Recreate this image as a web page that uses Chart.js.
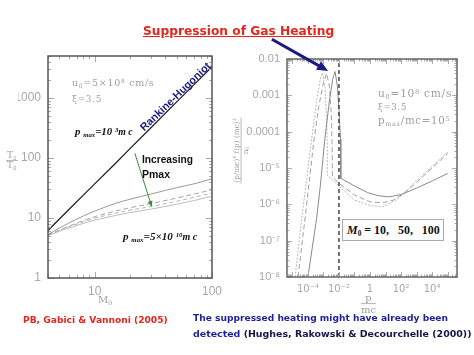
<!DOCTYPE html>
<html><head><meta charset="utf-8">
<script src="https://cdn.jsdelivr.net/npm/chart.js@4"></script>
<style>
html,body{margin:0;padding:0;background:#fff;}
#page{position:relative;width:474px;height:355px;overflow:hidden;background:#fff;}
canvas{position:absolute;left:0;top:0;}
.t{position:absolute;white-space:nowrap;line-height:1.1;display:inline-block;transform-origin:50% 50%;}
.t sub,.t sup{font-size:0.62em;line-height:0;}
.t sup{vertical-align:0.5em;}
.t sub{vertical-align:-0.3em;}
.gray{color:#a0a0a0;font-family:'DejaVu Serif';}
.sp{letter-spacing:0.7px;}
.bi{font-family:'Liberation Serif';font-weight:bold;font-style:italic;color:#111;}
.frac{text-align:center;}
.frac .num{border-bottom:1px solid #bbb;padding:0 1px;}
#mbox{position:absolute;left:342px;top:219px;width:102px;height:22px;border:1px solid #aaa;background:#fff;box-sizing:border-box;}
</style></head><body>
<div id="page">
<canvas id="cL" width="474" height="355"></canvas>
<canvas id="cR" width="474" height="355"></canvas>
<div id="mbox"></div>

<div class="t" data-x="143" data-cy="31" data-w="191" style="color:#e4261c;font-family:'DejaVu Sans';font-weight:bold;font-size:14px;text-decoration:underline;">Suppression of Gas Heating</div>

<div class="t gray sp" data-x="72" data-cy="83" data-w="80" style="font-size:13px">u<sub>0</sub>=5×10<sup>8</sup> cm/s</div>
<div class="t gray sp" data-x="72" data-cy="100" data-w="29" style="font-size:13px">ξ=3.5</div>
<div class="t" data-x="175" data-cy="97" data-w="93" data-rot="-44" style="color:#1c1c80;font-family:'Liberation Sans';font-weight:bold;font-size:12px">Rankine-Hugoniot</div>
<div class="t bi" data-x="75" data-cy="132" data-w="58" style="font-size:12px">p <sub>max</sub>=10 <sup>3</sup><span style="font-size:0.9em">m c</span></div>
<div class="t" data-x="142" data-cy="159" data-w="51" style="color:#111;font-family:'Liberation Sans';font-weight:bold;font-size:12px">Increasing</div>
<div class="t" data-x="142" data-cy="175" data-w="28" style="color:#111;font-family:'Liberation Sans';font-weight:bold;font-size:12px">Pmax</div>
<div class="t bi" data-x="123" data-cy="236" data-w="74" style="font-size:12px">p <sub>max</sub>=5×10 <sup>10</sup><span style="font-size:0.9em">m c</span></div>
<div class="t gray frac" data-x="6" data-cy="161" style="font-size:9px"><div class="num">T<sub>2</sub></div><div>T<sub>0</sub></div></div>
<div class="t gray" data-x="98" data-cy="299" style="font-size:10px">M<sub>0</sub></div>

<div class="t gray sp" data-x="378" data-cy="94" data-w="73" style="font-size:12px">u<sub>0</sub>=10<sup>8</sup> cm/s</div>
<div class="t gray sp" data-x="378" data-cy="107" data-w="28" style="font-size:12px">ξ=3.5</div>
<div class="t gray sp" data-x="378" data-cy="120" data-w="71" style="font-size:12px">p<sub>max</sub>/mc=10<sup>5</sup></div>
<div class="t bi" data-x="347" data-cy="230" data-w="93" style="font-size:14px;font-style:normal"><i>M</i><sub>0</sub> = 10,&nbsp;&nbsp; 50,&nbsp;&nbsp; 100</div>
<div class="t gray frac" data-x="241" data-cy="150" data-w="66" data-rot="-90" style="font-size:10px"><div class="num">(p/mc)<sup>4</sup> f(p) (mc)<sup>3</sup></div><div>n<sub>0</sub></div></div>
<div class="t gray frac" data-x="361" data-cy="303" style="font-size:10px"><div class="num">p</div><div>mc</div></div>

<div class="t" data-x="23" data-cy="320" data-w="145" style="color:#e4261c;font-family:'DejaVu Sans';font-weight:bold;font-size:10px">PB, Gabici &amp; Vannoni (2005)</div>
<div class="t" data-x="193" data-cy="318" data-w="255" style="color:#1f1f9a;font-family:'DejaVu Sans';font-weight:bold;font-size:10px">The suppressed heating might have already been</div>
<div class="t" data-x="193" data-cy="334" data-w="279" style="color:#1f1f9a;font-family:'DejaVu Sans';font-weight:bold;font-size:10px">detected <span style="color:#15154a">(Hughes, Rakowski &amp; Decourchelle (2000))</span></div>
</div>

<script>
// ---------- Left panel data: T2/T0 vs M0 ----------
const machNumbers      = [4, 5, 6, 8, 10, 15, 20, 30, 50, 70, 100];
const rankineHugoniot  = [6.2, 9.6, 13.7, 24, 37, 81, 143, 315, 860, 1650, 3300];
const tempPmaxLow      = [5.3, 6.8, 8.2, 10.8, 13, 17.5, 20.5, 25, 32, 37, 45];
const tempPmaxMid1     = [5.2, 6.3, 7.3, 9, 10.5, 13, 14.8, 17.3, 21.5, 25, 29.5];
const tempPmaxMid2     = [5.2, 6.2, 7.1, 8.6, 9.9, 12, 13.5, 15.5, 19, 22, 26];
const tempPmaxHigh     = [5.1, 6.0, 6.8, 8.1, 9.2, 11, 12.3, 14, 17, 19.5, 23];
const leftXTicks  = [10, 100];
const leftXLabels = ['10', '100'];
const leftYTicks  = [1, 10, 100, 1000];
const leftYLabels = ['1', '10', '100', '1000'];
const greenArrowFrom = {x: 22, y: 120};
const greenArrowTo   = {x: 30.7, y: 15.2};

// ---------- Right panel data: (p/mc)^4 f(p) (mc)^3 / n0 vs p/mc ----------
const pM10   = [1.0e-4, 3.6e-4, 6.3e-4, 1.23e-3, 2.5e-3, 4.0e-3, 5.6e-3, 7.9e-3, 1.0e-2, 1.26e-2, 1.32e-2, 1.32e-2, 0.1, 0.7, 3.2, 16, 100, 1000, 1e4, 1e5];
const fM10   = [1.0e-8, 4.0e-7, 3.2e-6, 6.3e-5, 7.9e-4, 2.8e-3, 4.5e-3, 1.8e-3, 4.0e-4, 6.3e-5, 2.0e-5, 5.2e-6, 3.2e-6, 2.1e-6, 1.74e-6, 1.6e-6, 1.86e-6, 2.8e-6, 4.4e-6, 7.1e-6];
const pM50   = [2.3e-5, 6.5e-5, 2.5e-4, 5.0e-4, 1.0e-3, 1.6e-3, 2.4e-3, 3.2e-3, 3.6e-3, 3.8e-3, 1e-2, 0.1, 1, 6.3, 32, 126, 1000, 1e4, 1e5];
const fM50   = [1.0e-8, 4.0e-7, 6.3e-5, 5.0e-4, 2.2e-3, 4.0e-3, 1.8e-3, 3.2e-4, 5.0e-5, 5.6e-6, 3.8e-6, 1.8e-6, 1.17e-6, 1.1e-6, 1.3e-6, 1.9e-6, 4.0e-6, 1.0e-5, 2.5e-5];
const pM100  = [1.5e-5, 4.0e-5, 1.74e-4, 3.5e-4, 6.3e-4, 8.9e-4, 1.26e-3, 1.6e-3, 1.78e-3, 1.8e-3, 1e-2, 0.1, 1, 6.3, 40, 126, 1000, 1e4, 1e5];
const fM100  = [1.0e-8, 4.0e-7, 6.3e-5, 6.3e-4, 2.8e-3, 4.2e-3, 1.6e-3, 2.5e-4, 4.0e-5, 6.3e-6, 3.2e-6, 1.3e-6, 9.3e-7, 8.5e-7, 1.26e-6, 1.8e-6, 4.5e-6, 1.1e-5, 2.7e-5];
const thermalMarkerP = 1e-2;
const rightXTicks  = [1e-4, 1e-2, 1, 1e2, 1e4];
const rightXLabels = ['10⁻⁴', '10⁻²', '1', '10²', '10⁴'];
const rightYTicks  = [1e-2, 1e-3, 1e-4, 1e-5, 1e-6, 1e-7, 1e-8];
const rightYLabels = ['0.01', '0.001', '0.0001', '10⁻⁵', '10⁻⁶', '10⁻⁷', '10⁻⁸'];
const blueArrowFrom = {x: 4.8e-7, y: 3.5e-2};
const blueArrowTo   = {x: 2.0e-3, y: 4.7e-3};

// ---------- text placement ----------
document.querySelectorAll('.t').forEach(el => {
  const w = +el.dataset.w;
  if (w) {
    const fs = parseFloat(getComputedStyle(el).fontSize);
    el.style.fontSize = (fs * w / el.offsetWidth) + 'px';
  }
  const x = +el.dataset.x, cy = +el.dataset.cy, rot = el.dataset.rot;
  if (rot) {
    el.style.left = (x - el.offsetWidth / 2) + 'px';
    el.style.top = (cy - el.offsetHeight / 2) + 'px';
    el.style.transform = 'rotate(' + rot + 'deg)';
  } else {
    el.style.left = x + 'px';
    el.style.top = (cy - el.offsetHeight / 2) + 'px';
  }
});

// ---------- plugins ----------
const framePlugin = {
  id: 'frame',
  afterDatasetsDraw(chart, args, o) {
    const {ctx, chartArea: a, scales: {x, y}} = chart;
    const list = s => {
      const out = [];
      const lo = Math.floor(Math.log10(s.min)), hi = Math.ceil(Math.log10(s.max));
      for (let k = lo; k <= hi; k++) for (let i = 1; i < 10; i++) {
        const v = i * Math.pow(10, k);
        if (v >= s.min * 0.999 && v <= s.max * 1.001) out.push([v, i === 1]);
      }
      return out;
    };
    ctx.save();
    ctx.strokeStyle = o.tickColor; ctx.lineWidth = 1;
    ctx.beginPath();
    list(x).forEach(([v, maj]) => {
      const px = Math.round(x.getPixelForValue(v)) + 0.5, L = maj ? o.major : o.minor;
      ctx.moveTo(px, a.bottom); ctx.lineTo(px, a.bottom - L);
      ctx.moveTo(px, a.top); ctx.lineTo(px, a.top + L);
    });
    list(y).forEach(([v, maj]) => {
      const py = Math.round(y.getPixelForValue(v)) + 0.5, L = maj ? o.major : o.minor;
      ctx.moveTo(a.left, py); ctx.lineTo(a.left + L, py);
      ctx.moveTo(a.right, py); ctx.lineTo(a.right - L, py);
    });
    ctx.stroke();
    ctx.strokeStyle = o.color; ctx.lineWidth = o.width;
    ctx.strokeRect(a.left, a.top, a.width, a.height);
    ctx.restore();
  },
  afterDraw(chart, args, o) {
    if (!o.arrow) return;
    const {ctx, scales: {x, y}} = chart, ar = o.arrow;
    const x0 = x.getPixelForValue(ar.from.x), y0 = y.getPixelForValue(ar.from.y);
    const x1 = x.getPixelForValue(ar.to.x), y1 = y.getPixelForValue(ar.to.y);
    const ang = Math.atan2(y1 - y0, x1 - x0);
    ctx.save();
    ctx.strokeStyle = ar.color; ctx.fillStyle = ar.color; ctx.lineWidth = ar.width;
    ctx.beginPath();
    ctx.moveTo(x0, y0);
    ctx.lineTo(x1 - Math.cos(ang) * ar.head * 0.8, y1 - Math.sin(ang) * ar.head * 0.8);
    ctx.stroke();
    ctx.beginPath();
    ctx.moveTo(x1, y1);
    ctx.lineTo(x1 - ar.head * Math.cos(ang) + ar.hw * Math.sin(ang), y1 - ar.head * Math.sin(ang) - ar.hw * Math.cos(ang));
    ctx.lineTo(x1 - ar.head * Math.cos(ang) - ar.hw * Math.sin(ang), y1 - ar.head * Math.sin(ang) + ar.hw * Math.cos(ang));
    ctx.closePath(); ctx.fill();
    ctx.restore();
  }
};
Chart.register(framePlugin);

const pts = (xs, ys) => xs.map((v, i) => ({x: v, y: ys[i]}));
const tickFont = {family: 'Liberation Sans', size: 12};

new Chart(document.getElementById('cL'), {
  type: 'line',
  data: {datasets: [
    {data: pts(machNumbers, rankineHugoniot), borderColor: '#222', borderWidth: 1.3, tension: 0},
    {data: pts(machNumbers, tempPmaxLow), borderColor: '#9a9a9a', borderWidth: 1},
    {data: pts(machNumbers, tempPmaxMid1), borderColor: '#a5a5a5', borderWidth: 1, borderDash: [5, 3]},
    {data: pts(machNumbers, tempPmaxMid2), borderColor: '#b5b5b5', borderWidth: 1, borderDash: [4, 3]},
    {data: pts(machNumbers, tempPmaxHigh), borderColor: '#bdbdbd', borderWidth: 1}
  ]},
  options: {
    responsive: false, animation: false, devicePixelRatio: 1, events: [],
    layout: {padding: {left: 18, right: 262, top: 56, bottom: 57}},
    elements: {point: {radius: 0}, line: {tension: 0.35}},
    plugins: {legend: {display: false}, tooltip: {enabled: false},
      frame: {color: '#555', width: 1.5, tickColor: '#aaa', major: 6, minor: 3,
        arrow: {from: greenArrowFrom, to: greenArrowTo, color: '#3d8b3d', width: 1, head: 6, hw: 2.5}}},
    scales: {
      x: {type: 'logarithmic', min: 4, max: 100, bounds: 'data',
        grid: {display: false, drawTicks: false}, border: {display: false},
        afterBuildTicks: s => { s.ticks = leftXTicks.map(v => ({value: v})); },
        afterFit: s => { s.height = 20; },
        ticks: {autoSkip: false, maxRotation: 0, minRotation: 0, padding: 6, color: '#a8a8a8', font: tickFont,
          callback: (v, i) => leftXLabels[i]}},
      y: {type: 'logarithmic', min: 1, max: 5000, bounds: 'data',
        grid: {display: false, drawTicks: false}, border: {display: false},
        afterBuildTicks: s => { s.ticks = leftYTicks.map(v => ({value: v})); },
        afterFit: s => { s.width = 30; },
        ticks: {autoSkip: false, padding: 7, color: '#a8a8a8', font: tickFont,
          callback: (v, i) => leftYLabels[i]}}
    }
  }
});

new Chart(document.getElementById('cR'), {
  type: 'line',
  data: {datasets: [
    {data: pts([thermalMarkerP, thermalMarkerP], [1e-8, 1e-2]), borderColor: '#444', borderWidth: 1.5, borderDash: [4, 3]},
    {data: pts(pM10, fM10), borderColor: '#8a8a8a', borderWidth: 1},
    {data: pts(pM50, fM50), borderColor: '#a0a0a0', borderWidth: 1, borderDash: [5, 3]},
    {data: pts(pM100, fM100), borderColor: '#b8b8b8', borderWidth: 1, borderDash: [2, 1.5]}
  ]},
  options: {
    responsive: false, animation: false, devicePixelRatio: 1, events: [],
    layout: {padding: {left: 237, right: 17, top: 59, bottom: 58}},
    elements: {point: {radius: 0}, line: {tension: 0}},
    plugins: {legend: {display: false}, tooltip: {enabled: false},
      frame: {color: '#666', width: 1.5, tickColor: '#aaa', major: 5, minor: 2.5,
        arrow: {from: blueArrowFrom, to: blueArrowTo, color: '#1b1b7d', width: 3, head: 11, hw: 5}}},
    scales: {
      x: {type: 'logarithmic', min: 4.5e-6, max: 4e5, bounds: 'data',
        grid: {display: false, drawTicks: false}, border: {display: false},
        afterBuildTicks: s => { s.ticks = rightXTicks.map(v => ({value: v})); },
        afterFit: s => { s.height = 20; },
        ticks: {autoSkip: false, maxRotation: 0, minRotation: 0, padding: 6, color: '#a8a8a8', font: {family: 'DejaVu Sans', size: 10},
          callback: (v, i) => rightXLabels[i]}},
      y: {type: 'logarithmic', min: 1e-8, max: 1e-2, bounds: 'data',
        grid: {display: false, drawTicks: false}, border: {display: false},
        afterBuildTicks: s => { s.ticks = rightYTicks.map(v => ({value: v})); },
        afterFit: s => { s.width = 50; },
        ticks: {autoSkip: false, padding: 7, color: '#a8a8a8', font: {family: 'Liberation Sans', size: 11},
          callback: (v, i) => rightYLabels[i]}}
    }
  }
});
</script>
</body></html>
